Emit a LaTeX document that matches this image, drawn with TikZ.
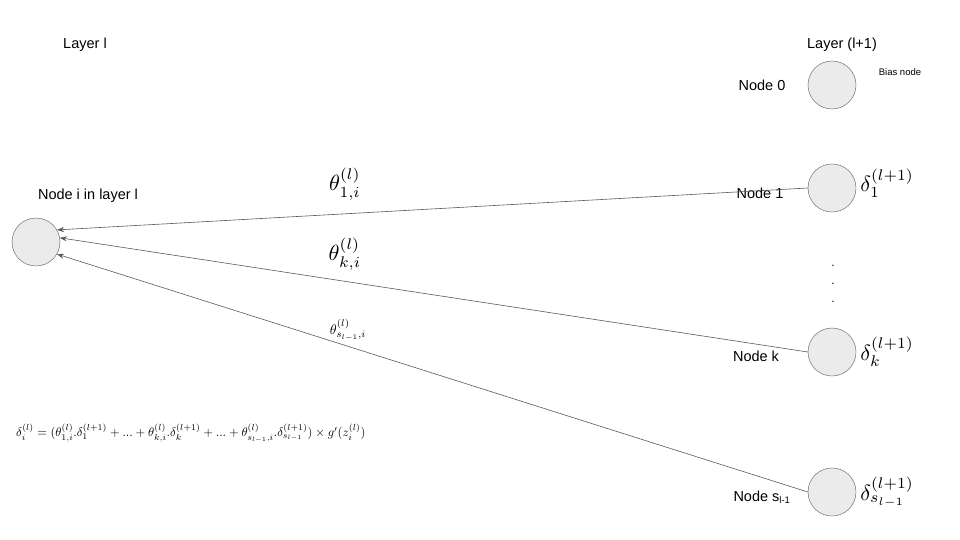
\documentclass[tikz,border=0pt]{standalone}
\usepackage{fontspec}
\setmainfont{Liberation Sans}
\usetikzlibrary{arrows.meta}
\begin{document}
\begin{tikzpicture}[x=1pt,y=-1pt,
  nd/.style={circle,draw=black!65,fill=black!8,minimum size=48pt,inner sep=0pt},
  lbl/.style={font=\fontsize{14.5}{16}\selectfont},
  conn/.style={draw=black!65,line width=0.6pt,-{Stealth[length=7pt,width=5pt]}},
  mth/.style={inner sep=0pt,scale=2.2,transform shape}]
\useasboundingbox (0,0) rectangle (960,540);
\node[lbl] (tl) at (85,45) {Layer l};
\node[lbl] (tr) at (842,45) {Layer (l+1)};
\node[nd] (n0) at (832,85) {};
\node[lbl] (t0) at (762,85) {Node 0};
\node[font=\fontsize{9.5}{10}\selectfont] (bias) at (900,72) {Bias node};
\node[nd] (n1) at (832,188) {};
\node[lbl] (t1) at (760,193) {Node 1};
\node[mth,anchor=west] (d1) at (860,183) {$\delta_1^{(l+1)}$};
\node[nd] (nk) at (832,352) {};
\node[lbl] (tk) at (756,356) {Node k};
\node[mth,anchor=west] (dk) at (860,352) {$\delta_k^{(l+1)}$};
\node[nd] (ns) at (832,492) {};
\node[lbl] (ts) at (762,497) {Node s$_{\mbox{\fontsize{9.5}{10}\selectfont l-1}}$};
\node[mth,anchor=west] (ds) at (860,492) {$\delta_{s_{l-1}}^{(l+1)}$};
\node[font=\fontsize{12}{12}\selectfont,inner sep=0pt] (dot1) at (833,266) {.};
\node[font=\fontsize{12}{12}\selectfont,inner sep=0pt] (dot2) at (833,284) {.};
\node[font=\fontsize{12}{12}\selectfont,inner sep=0pt] (dot3) at (833,302) {.};
\node[nd] (ni) at (36,242) {};
\node[lbl] (ti) at (88,196) {Node i in layer l};
\draw[conn] (n1.west) -- (ni.30);
\draw[conn] (nk.west) -- (ni.10);
\draw[conn] (ns.west) -- (ni.-30);
\node[mth] (th1) at (345,184) {$\theta_{1,i}^{(l)}$};
\node[mth] (thk) at (345,254) {$\theta_{k,i}^{(l)}$};
\node[inner sep=0pt,scale=1.4,transform shape] (ths) at (348,330) {$\theta_{s_{l-1},i}^{(l)}$};
\node[inner sep=0pt,scale=1.25,transform shape,anchor=west] (eq) at (16,433) {$\delta_i^{(l)} = (\theta_{1,i}^{(l)}.\delta_1^{(l+1)} + ... + \theta_{k,i}^{(l)}.\delta_k^{(l+1)} + ... + \theta_{s_{l-1},i}^{(l)}.\delta_{s_{l-1}}^{(l+1)}) \times g'(z_i^{(l)})$};
\end{tikzpicture}
\end{document}
